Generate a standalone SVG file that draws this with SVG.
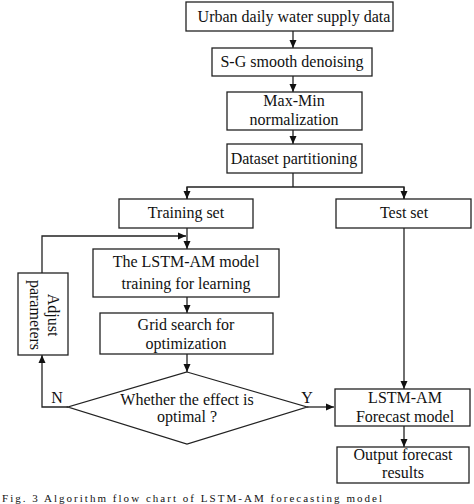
<svg xmlns="http://www.w3.org/2000/svg" width="474" height="504" viewBox="0 0 474 504" font-family="'Liberation Serif', 'Times New Roman', serif">
<style>
.box{fill:#fff;stroke:#222;stroke-width:1.3}
.ln{fill:none;stroke:#222;stroke-width:1.3}
text{font-family:"Liberation Serif","Times New Roman",serif;font-size:16px;fill:#111;text-anchor:middle}
</style>
<defs>
<marker id="ah" markerUnits="userSpaceOnUse" markerWidth="9" markerHeight="8" refX="8" refY="4" orient="auto">
<path d="M0,0.5 L8,4 L0,7.5 z" fill="#111"/>
</marker>
</defs>
<rect width="474" height="504" fill="#fff"/>
<g id="connectors">
<line class="ln" x1="293" y1="31" x2="293" y2="48" marker-end="url(#ah)"/>
<line class="ln" x1="293" y1="76" x2="293" y2="92" marker-end="url(#ah)"/>
<line class="ln" x1="293" y1="130" x2="293" y2="144" marker-end="url(#ah)"/>
<line class="ln" x1="293" y1="173" x2="293" y2="187"/>
<polyline class="ln" points="187,199 187,187 404,187 404,199"/>
<line class="ln" x1="187" y1="187" x2="187" y2="199" marker-end="url(#ah)"/>
<line class="ln" x1="404" y1="187" x2="404" y2="199" marker-end="url(#ah)"/>
<line class="ln" x1="187" y1="228" x2="187" y2="249" marker-end="url(#ah)"/>
<polyline class="ln" points="42,273 42,236 186,236" marker-end="url(#ah)"/>
<line class="ln" x1="187" y1="297" x2="187" y2="313" marker-end="url(#ah)"/>
<line class="ln" x1="187" y1="354" x2="187" y2="372" marker-end="url(#ah)"/>
<polyline class="ln" points="68,407 42,407 42,355" marker-end="url(#ah)"/>
<line class="ln" x1="307" y1="407" x2="334" y2="407" marker-end="url(#ah)"/>
<line class="ln" x1="404" y1="228" x2="404" y2="389" marker-end="url(#ah)"/>
<line class="ln" x1="404" y1="426" x2="404" y2="447" marker-end="url(#ah)"/>
<text x="57" y="403">N</text>
<text x="307" y="403">Y</text>
</g>
<g id="n1"><rect class="box" x="186" y="2" width="207" height="29"/><text x="294" y="22">Urban daily water supply data</text></g>
<g id="n2"><rect class="box" x="212" y="48" width="160" height="28"/><text x="292" y="67">S-G smooth denoising</text></g>
<g id="n3"><rect class="box" x="227" y="92" width="135" height="38"/><text x="294" y="106">Max-Min</text><text x="294" y="125">normalization</text></g>
<g id="n4"><rect class="box" x="227" y="144" width="135" height="29"/><text x="294" y="164">Dataset partitioning</text></g>
<g id="n5"><rect class="box" x="119" y="199" width="134" height="29"/><text x="186" y="218">Training set</text></g>
<g id="n6"><rect class="box" x="336" y="199" width="135" height="29"/><text x="404" y="218">Test set</text></g>
<g id="n7"><rect class="box" x="93" y="249" width="186" height="48"/><text x="186" y="267">The LSTM-AM model</text><text x="186" y="289">training for learning</text></g>
<g id="n8"><rect class="box" x="100" y="313" width="173" height="41"/><text x="186" y="330">Grid search for</text><text x="186" y="349">optimization</text></g>
<g id="n9"><rect class="box" x="18" y="273" width="50" height="82"/>
<g transform="translate(48,315) rotate(90)"><text x="0" y="0">Adjust</text><text x="0" y="18">parameters</text></g></g>
<g id="n10"><polygon class="box" points="187,372 307,407 187,444 68,407"/><text x="187" y="405">Whether the effect is</text><text x="187" y="422">optimal ?</text></g>
<g id="n11"><rect class="box" x="335" y="389" width="135" height="37"/><text x="405" y="403">LSTM-AM</text><text x="405" y="422">Forecast model</text></g>
<g id="n12"><rect class="box" x="337" y="447" width="132" height="36"/><text x="403" y="460">Output forecast</text><text x="403" y="478">results</text></g>
<text x="2" y="502" style="text-anchor:start;font-size:11px" textLength="380" lengthAdjust="spacing">Fig. 3   Algorithm flow chart of LSTM-AM forecasting model</text>
</svg>
